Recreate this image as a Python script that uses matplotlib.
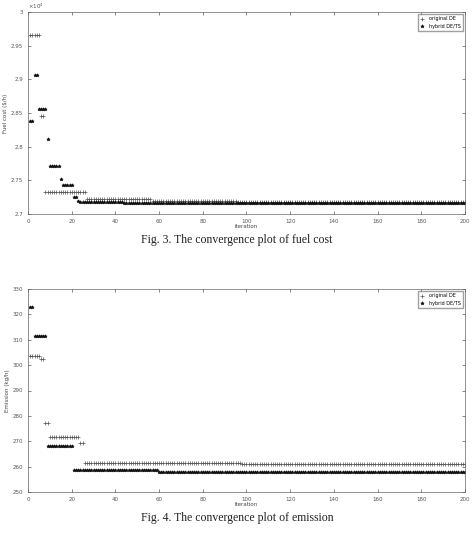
import numpy as np
import matplotlib
matplotlib.use("Agg")
import matplotlib.pyplot as plt
from matplotlib.ticker import FuncFormatter

iters = np.arange(1, 201)

# step segments: (end iteration inclusive, value)
fuel_de_ends = [5, 7, 26, 56, 95, 200]
fuel_de_vals = [29660, 28450, 27320, 27225, 27190, 27185]
fuel_hy_ends = [2, 4, 8, 9, 14, 15, 20, 22, 23, 43, 200]
fuel_hy_vals = [28380, 29060, 28560, 28120, 27720, 27520, 27430, 27250, 27200, 27185, 27170]

em_de_ends = [5, 7, 9, 23, 25, 97, 200]
em_de_vals = [303.5, 302.5, 277, 271.5, 269.5, 261.5, 261.0]
em_hy_ends = [2, 8, 20, 59, 200]
em_hy_vals = [323, 311.5, 268, 258.5, 258.0]

def expand(ends, vals):
    counts = np.diff([0] + ends)
    return np.repeat(vals, counts)

fuel_de = expand(fuel_de_ends, fuel_de_vals)
fuel_hy = expand(fuel_hy_ends, fuel_hy_vals)
em_de = expand(em_de_ends, em_de_vals)
em_hy = expand(em_hy_ends, em_hy_vals)

W, H = 474, 535
fig = plt.figure(figsize=(W/100, H/100), dpi=100)
fs = 4

def style(ax):
    ax.set_xlim(0, 200)
    ax.set_xticks(range(0, 201, 20))
    ax.tick_params(labelsize=fs, direction='in', length=2, width=0.5, colors='#555555', top=True, right=True)
    for s in ax.spines.values():
        s.set_linewidth(0.5); s.set_color('#666666')
    ax.set_xlabel('iteration', fontsize=fs, labelpad=0, color='#444444')

ax1 = fig.add_axes([28/W, 1-214/H, 437/W, 202/H])
ax1.plot(iters, fuel_de, '+', ms=2.5, mew=0.5, color='#555555', label='original DE')
ax1.plot(iters, fuel_hy, '*', ms=2.5, mew=0.5, color='#111111', label='hybrid DE/TS')
ax1.set_ylim(27000, 30000)
ax1.set_yticks([27000, 27500, 28000, 28500, 29000, 29500, 30000])
ax1.yaxis.set_major_formatter(FuncFormatter(lambda v, p: f'{v/1e4:g}'))
ax1.text(0, 1.003, r'$\times10^4$', transform=ax1.transAxes, fontsize=fs, color='#555555', va='bottom')
ax1.set_ylabel('Fuel cost ($/h)', fontsize=fs, color='#444444', labelpad=2)
style(ax1)
ax1.legend(loc='upper right', fontsize=3.5, frameon=True, fancybox=False, edgecolor='#888888', handlelength=1)

ax2 = fig.add_axes([28/W, 1-492/H, 437/W, 203/H])
ax2.plot(iters, em_de, '+', ms=2.5, mew=0.5, color='#555555', label='original DE')
ax2.plot(iters, em_hy, '*', ms=2.5, mew=0.5, color='#111111', label='hybrid DE/TS')
ax2.set_ylim(250, 330)
ax2.set_yticks(range(250, 331, 10))
ax2.set_ylabel('Emission (kg/h)', fontsize=fs, color='#444444', labelpad=2)
style(ax2)
ax2.legend(loc='upper right', fontsize=3.5, frameon=True, fancybox=False, edgecolor='#888888', handlelength=1)

fig.text(237/W, 1-240/H, 'Fig. 3. The convergence plot of fuel cost', ha='center', va='center',
         fontsize=8.5, family='Liberation Serif', color='#222222')
fig.text(237/W, 1-518/H, 'Fig. 4. The convergence plot of emission', ha='center', va='center',
         fontsize=8.5, family='Liberation Serif', color='#222222')

fig.savefig('out.png', dpi=100)
